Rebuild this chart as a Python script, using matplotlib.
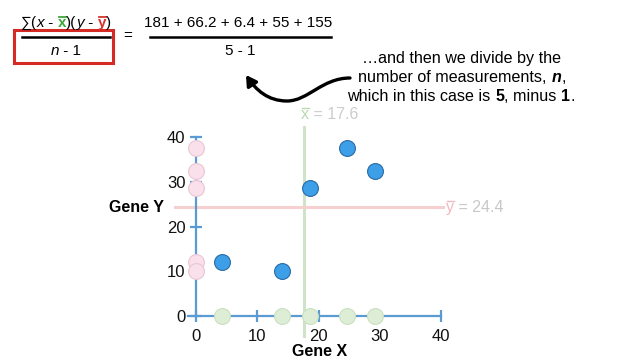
import matplotlib
matplotlib.use("Agg")
import matplotlib.pyplot as plt
from matplotlib.path import Path
from matplotlib.patches import FancyArrowPatch, Rectangle
import matplotlib.lines as mlines

# ---- data ----
gene_x = [4.2, 14.1, 18.6, 24.7, 29.3]
gene_y = [12.1, 10.1, 28.5, 37.5, 32.4]
mean_x = 17.6
mean_y = 24.4
x_ticks = [0, 10, 20, 30, 40]
y_ticks = [0, 10, 20, 30, 40]
products = ["181", "66.2", "6.4", "55", "155"]
n_points = 5

W, H = 640, 360
FONT = "Liberation Sans"
plt.rcParams['font.family'] = [FONT, 'DejaVu Sans']

fig = plt.figure(figsize=(6.4, 3.6), dpi=100)

AX_BLUE = '#5a9bd3'
PT_BLUE = '#3d9fe8'
PT_EDGE = '#2a6aa5'
PINK = '#f9e0ea'
PINK_E = '#e9c6d6'
GREEN = '#deeed6'
GREEN_E = '#c9dfbf'

# axes placement: x=0 -> 196px, x=40 -> 441px ; y=0 -> 316px, y=40 -> 137px
x0p, x40p = 196, 441
y0p, y40p = 316, 137
sx = (x40p - x0p) / 40.0
sy = (y0p - y40p) / 40.0
xlim = (-4, 46)
ylim = (-3, 50)
left = x0p + xlim[0] * sx
right = x0p + xlim[1] * sx
bottom = y0p - ylim[0] * sy
top = y0p - ylim[1] * sy
ax = fig.add_axes([left / W, 1 - bottom / H, (right - left) / W, (bottom - top) / H])
ax.set_xlim(*xlim)
ax.set_ylim(*ylim)
ax.patch.set_alpha(0)
for s in ['top', 'right']:
    ax.spines[s].set_visible(False)
for s in ['left', 'bottom']:
    ax.spines[s].set_position(('data', 0))
    ax.spines[s].set_color(AX_BLUE)
    ax.spines[s].set_linewidth(1.6)
ax.spines['bottom'].set_bounds(-1.3, 40)
ax.spines['left'].set_bounds(0, 40)
ax.set_xticks(x_ticks)
ax.set_yticks(y_ticks)
ax.tick_params(direction='inout', length=9, width=1.6, color=AX_BLUE,
               labelsize=12, labelcolor='#111111')
ax.tick_params(axis='x', pad=5)
ax.tick_params(axis='y', pad=3)

# mean lines
ax.plot([mean_x, mean_x], [-4.4, 42.2], color='#cfe3c8', lw=2.2, zorder=1, clip_on=False)
ax.plot([-3.4, 40.3], [mean_y, mean_y], color='#f6cfcf', lw=2.2, zorder=1, clip_on=False)

# projections
ms = 130
ax.scatter([0] * len(gene_y), gene_y, s=ms, color=PINK, edgecolor=PINK_E, lw=0.8, zorder=3, clip_on=False)
ax.scatter(gene_x, [0] * len(gene_x), s=ms, color=GREEN, edgecolor=GREEN_E, lw=0.8, zorder=3, clip_on=False)
ax.scatter(gene_x, gene_y, s=ms, color=PT_BLUE, edgecolor=PT_EDGE, lw=0.8, zorder=4, clip_on=False)

fig.text(164 / W, 1 - 212 / H, "Gene Y", ha='right', va='baseline', fontsize=11.5, fontweight='bold')
fig.text(320 / W, 1 - 356 / H, "Gene X", ha='center', va='baseline', fontsize=11.5, fontweight='bold')

renderer = fig.canvas.get_renderer()


def seq(pieces, px, py, ha='center'):
    texts = []
    for s, kw in pieces:
        t = fig.text(0, 0, s, va='baseline', **kw)
        texts.append(t)
    widths = [t.get_window_extent(renderer).width for t in texts]
    total = sum(widths)
    x = px - total / 2 if ha == 'center' else px
    for t, w in zip(texts, widths):
        t.set_position((x / W, 1 - py / H))
        x += w
    return texts


def overline(t, py, fs, color, lw=1.3, k=0.68):
    bb = t.get_window_extent(renderer)
    ypx = py - k * fs * 100 / 72
    fig.add_artist(mlines.Line2D([(bb.x0 + 1.0) / W, (bb.x1 - 0.5) / W],
                                 [1 - ypx / H] * 2, color=color, lw=lw))


# mean labels
fs_m = 11.5
t = seq([("x", dict(color='#bcd9b0', fontsize=fs_m)),
         (" = %.1f" % mean_x, dict(color='#cccccc', fontsize=fs_m))], 301, 119, ha='left')
overline(t[0], 119, fs_m, '#bcd9b0', lw=1.0)
t = seq([("y", dict(color='#f0b8c0', fontsize=fs_m)),
         (" = %.1f" % mean_y, dict(color='#c8c8c8', fontsize=fs_m))], 446, 212, ha='left')
overline(t[0], 212, fs_m, '#f0b8c0', lw=1.0)

# formula
fs = 11
it = dict(fontsize=fs, fontstyle='italic')
rg = dict(fontsize=fs)
t = seq([("∑(", rg), ("x", it), (" - ", rg),
         ("x", dict(fontsize=fs, color='#3aa83a', fontweight='bold')), (")(", rg),
         ("y", it), (" - ", rg),
         ("y", dict(fontsize=fs, color='#d8312c', fontweight='bold')), (")", rg)], 66, 27)
overline(t[3], 27, fs, '#3aa83a')
overline(t[7], 27, fs, '#d8312c')
fig.add_artist(mlines.Line2D([22 / W, 110 / W], [1 - 37 / H] * 2, color='black', lw=1.8))
seq([("n", it), (" - 1", rg)], 66, 55)
fig.add_artist(Rectangle((14 / W, 1 - 63 / H), 99 / W, 33 / H, fill=False,
                         edgecolor='#d62a24', lw=2.2, transform=fig.transFigure))
fig.text(128 / W, 1 - 36 / H, "=", ha='center', va='center', fontsize=fs)
fig.text(238 / W, 1 - 27 / H, " + ".join(products), ha='center', va='baseline', fontsize=fs)
fig.add_artist(mlines.Line2D([150 / W, 331 / W], [1 - 37 / H] * 2, color='black', lw=1.8))
fig.text(240 / W, 1 - 55 / H, "%d - 1" % n_points, ha='center', va='baseline', fontsize=fs)

# explanation text
fs2 = 11.6
seq([("…and then we divide by the", dict(fontsize=fs2))], 462, 63)
seq([("number of measurements, ", dict(fontsize=fs2)),
     ("n", dict(fontsize=fs2, fontweight='bold', fontstyle='italic')),
     (",", dict(fontsize=fs2))], 462, 82)
seq([("which in this case is ", dict(fontsize=fs2)),
     ("5", dict(fontsize=fs2, fontweight='bold')),
     (", minus ", dict(fontsize=fs2)),
     ("1", dict(fontsize=fs2, fontweight='bold')),
     (".", dict(fontsize=fs2))], 461, 101)

# curved arrow
pts = [(350, 78), (322, 78), (308, 101), (287, 101), (268, 101), (256, 90), (246, 75)]
verts = [(x / W, 1 - y / H) for x, y in pts]
codes = [Path.MOVETO] + [Path.CURVE4] * 6
arrow = FancyArrowPatch(path=Path(verts, codes), arrowstyle='-|>,head_length=6,head_width=3.5',
                        color='black', lw=2.4, transform=fig.transFigure)
fig.add_artist(arrow)

fig.savefig("out.png", dpi=100)
